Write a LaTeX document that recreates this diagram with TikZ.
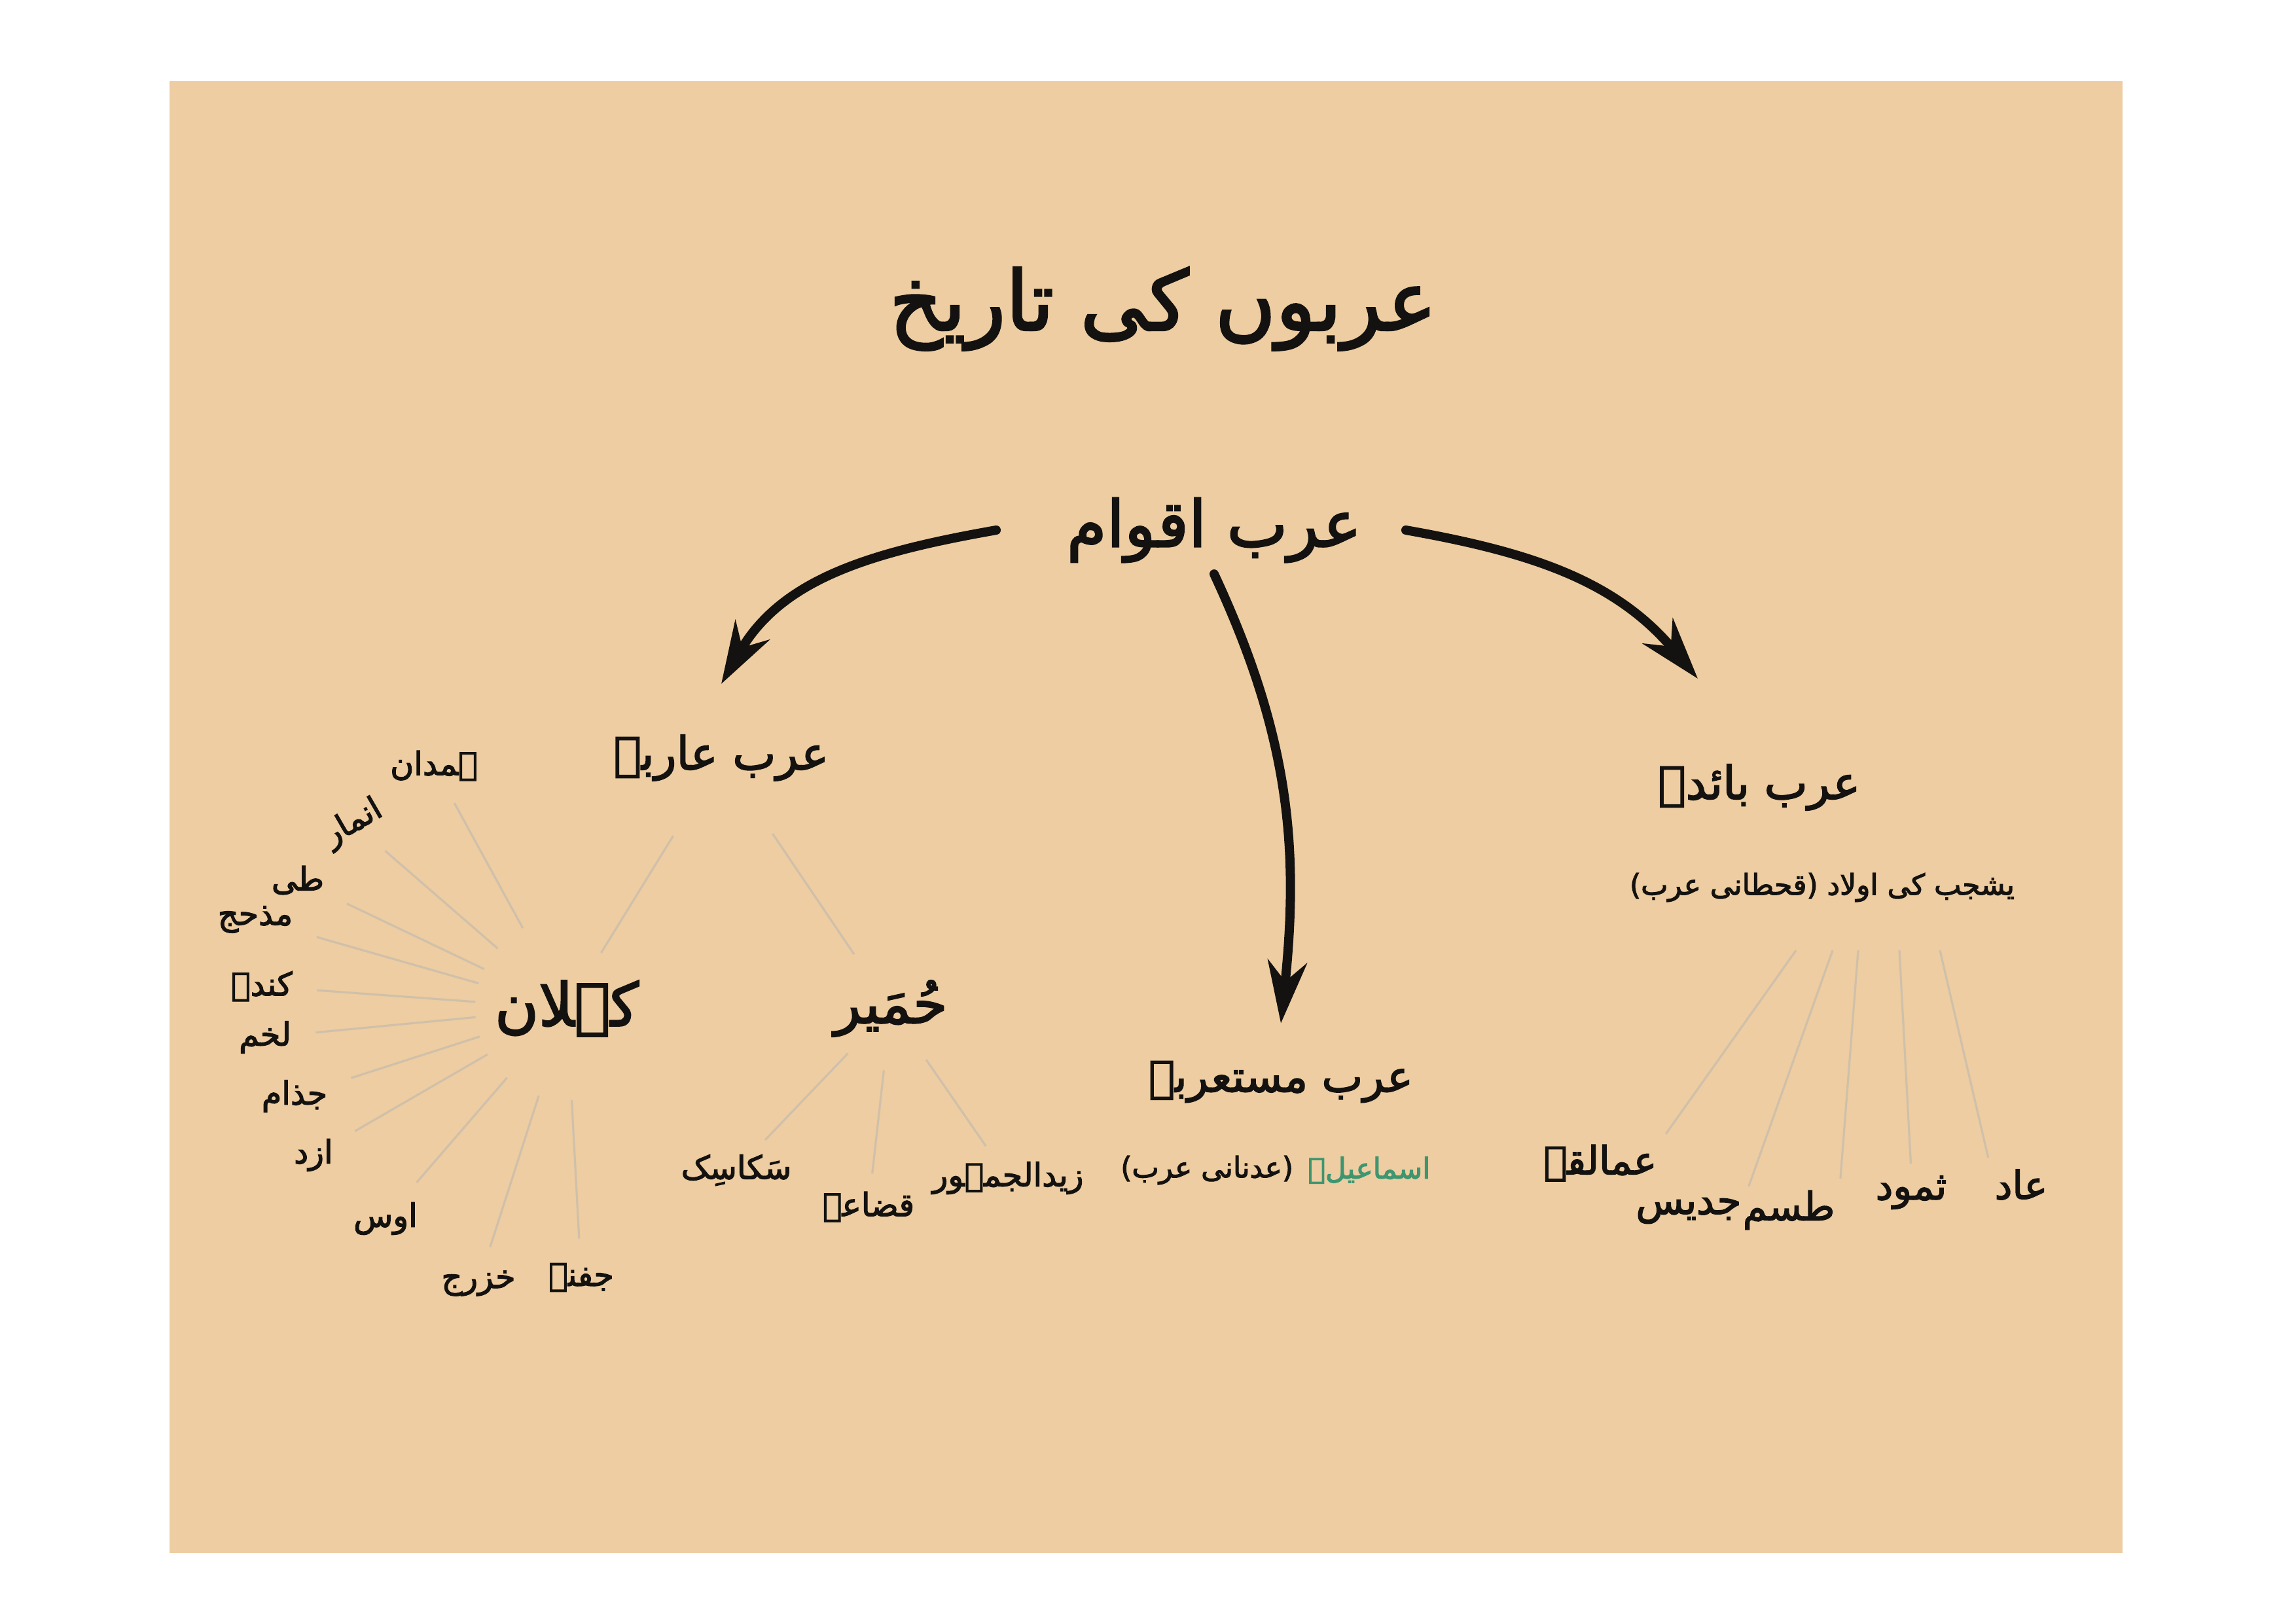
\documentclass[tikz,border=0pt]{standalone}
\usepackage{fontspec}
\usetikzlibrary{positioning, arrows.meta}
\TeXXeTstate=1
\newfontfamily\arabicfont[Script=Arabic, AutoFakeBold=2.5]{DejaVu Sans}
\newcommand{\ur}[1]{\arabicfont\beginR #1\endR}
\definecolor{paper}{RGB}{237,205,161}
\definecolor{ink}{RGB}{20,18,16}
\definecolor{faint}{RGB}{208,192,170}
\definecolor{ismailgreen}{RGB}{62,150,112}

\begin{document}
\begin{tikzpicture}
        \tikzstyle{title_text}=[font=\fontsize{36}{44}\selectfont\bfseries, text=ink, inner sep=2pt];
        \tikzstyle{group_big}=[font=\fontsize{28}{34}\selectfont\bfseries, text=ink, inner sep=2pt];
        \tikzstyle{group}=[font=\fontsize{20}{24}\selectfont\bfseries, text=ink, inner sep=2pt];
        \tikzstyle{group_note}=[font=\fontsize{12.5}{15}\selectfont\bfseries, text=ink, inner sep=1pt];
        \tikzstyle{tribe_big}=[font=\fontsize{26}{32}\selectfont\bfseries, text=ink, inner sep=2pt];
        \tikzstyle{tribe}=[font=\fontsize{17}{21}\selectfont\bfseries, text=ink, inner sep=2pt];
        \tikzstyle{tribe_small}=[font=\fontsize{14}{17}\selectfont\bfseries, text=ink, inner sep=2pt];
        \tikzstyle{big_arrow}=[line width=4pt, line cap=round, color=ink, -{Stealth[length=0.95cm, width=0.6cm]}];
        \tikzstyle{faint_line}=[line width=0.9pt, color=faint];

        % page and paper
        \useasboundingbox (0,0) rectangle (35.08,-24.79);
        \fill[white] (0,0) rectangle (35.08,-24.79);
        \fill[paper] (2.59,-1.24) rectangle (32.43,-23.73);

        % title
        \node[title_text] (title) at (17.77,-4.72) {\ur{عربوں کی تاریخ}};

        % the three groups
        \node[group_big] (aqwam) at (18.55,-8.10) {\ur{عرب اقوام}};
        \node[group] (ariba) at (11.02,-11.58) {\ur{عرب عاربہ}};
        \node[group] (baida) at (26.88,-12.03) {\ur{عرب بائدہ}};
        \node[group_note] (baidasub) at (27.84,-13.56) {\ur{یشجب کی اولاد (قحطانی عرب)}};
        \node[group, font=\fontsize{19}{23}\selectfont\bfseries] (mustariba) at (19.57,-16.53) {\ur{عرب مستعربہ}};
        \node[group_note, text=ismailgreen] (ismail) at (20.92,-17.88) {\ur{اسماعیلؑ}};
        \node[group_note, left=4pt of ismail] (adnani) {\ur{(عدنانی عرب)}};

        \draw[big_arrow] ([xshift=-1.0cm]aqwam.west) to[out=190, in=60] ([yshift=0.7cm]ariba.north);
        \draw[big_arrow] ([yshift=-0.1cm]aqwam.south) to[out=-65, in=84] ([yshift=0.5cm]mustariba.north);
        \draw[big_arrow] ([xshift=0.6cm]aqwam.east) to[out=-10, in=130] ([xshift=-0.94cm, yshift=1.23cm]baida.north);

        % Arab Ariba
        \node[tribe_big] (kahlan) at (8.66,-15.41) {\ur{کہلان}};
        \node[tribe_big, font=\fontsize{24}{30}\selectfont\bfseries] (himyar) at (13.61,-15.41) {\ur{حُمَیر}};
        \draw[faint_line, shorten <=1.4cm, shorten >=1.0cm] (ariba.center) -- (kahlan.center);
        \draw[faint_line, shorten <=1.4cm, shorten >=1.0cm] (ariba.center) -- (himyar.center);

        % Kahlan tribes
        \foreach \n/\t/\x/\y/\r in {hamdan/ہمدان/6.63/11.70/0, anmar/انمار/5.40/12.58/30,
                tay/طی/4.55/13.45/0, madhhij/مذحج/3.90/14.05/0, kinda/کندہ/4.00/15.07/0,
                lakhm/لخم/4.05/15.85/0, judham/جذام/4.50/16.75/0, azd/ازد/4.79/17.65/0,
                aws/اوس/5.89/18.62/0, khazraj/خزرج/7.31/19.61/0, jafna/جفنہ/8.88/19.52/0}{
          \node[tribe_small, rotate=\r] (\n) at (\x,-\y) {\ur{\t}};
          \draw[faint_line, shorten <=1.4cm, shorten >=0.3cm] (kahlan.center) -- (\n);
        }

        % Himyar tribes
        \foreach \n/\t/\x/\y in {sakasik/سَکاسِک/11.25/17.88, qudaa/قضاعہ/13.27/18.44, zaid/زیدالجمہور/15.40/18.00}{
          \node[tribe_small] (\n) at (\x,-\y) {\ur{\t}};
          \draw[faint_line, shorten <=0.95cm, shorten >=0.2cm] (himyar.center) -- (\n);
        }

        % Arab Baida tribes
        \foreach \n/\t/\x/\y/\s/\a in {amaliqa/عمالقہ/24.45/17.77/-0.40/north east, jadis/جدیس/25.80/18.50/0.16/north east,
                tasm/طسم/27.33/18.49/0.55/north east, thamud/ثمود/29.20/18.22/1.18/north, ad/عاد/30.88/18.10/1.80/north west}{
          \node[tribe] (\n) at (\x,-\y) {\ur{\t}};
          \draw[faint_line, shorten >=3pt] ([xshift=\s cm, yshift=-0.7cm]baidasub.south) -- (\n.\a);
        }
\end{tikzpicture}
\end{document}
